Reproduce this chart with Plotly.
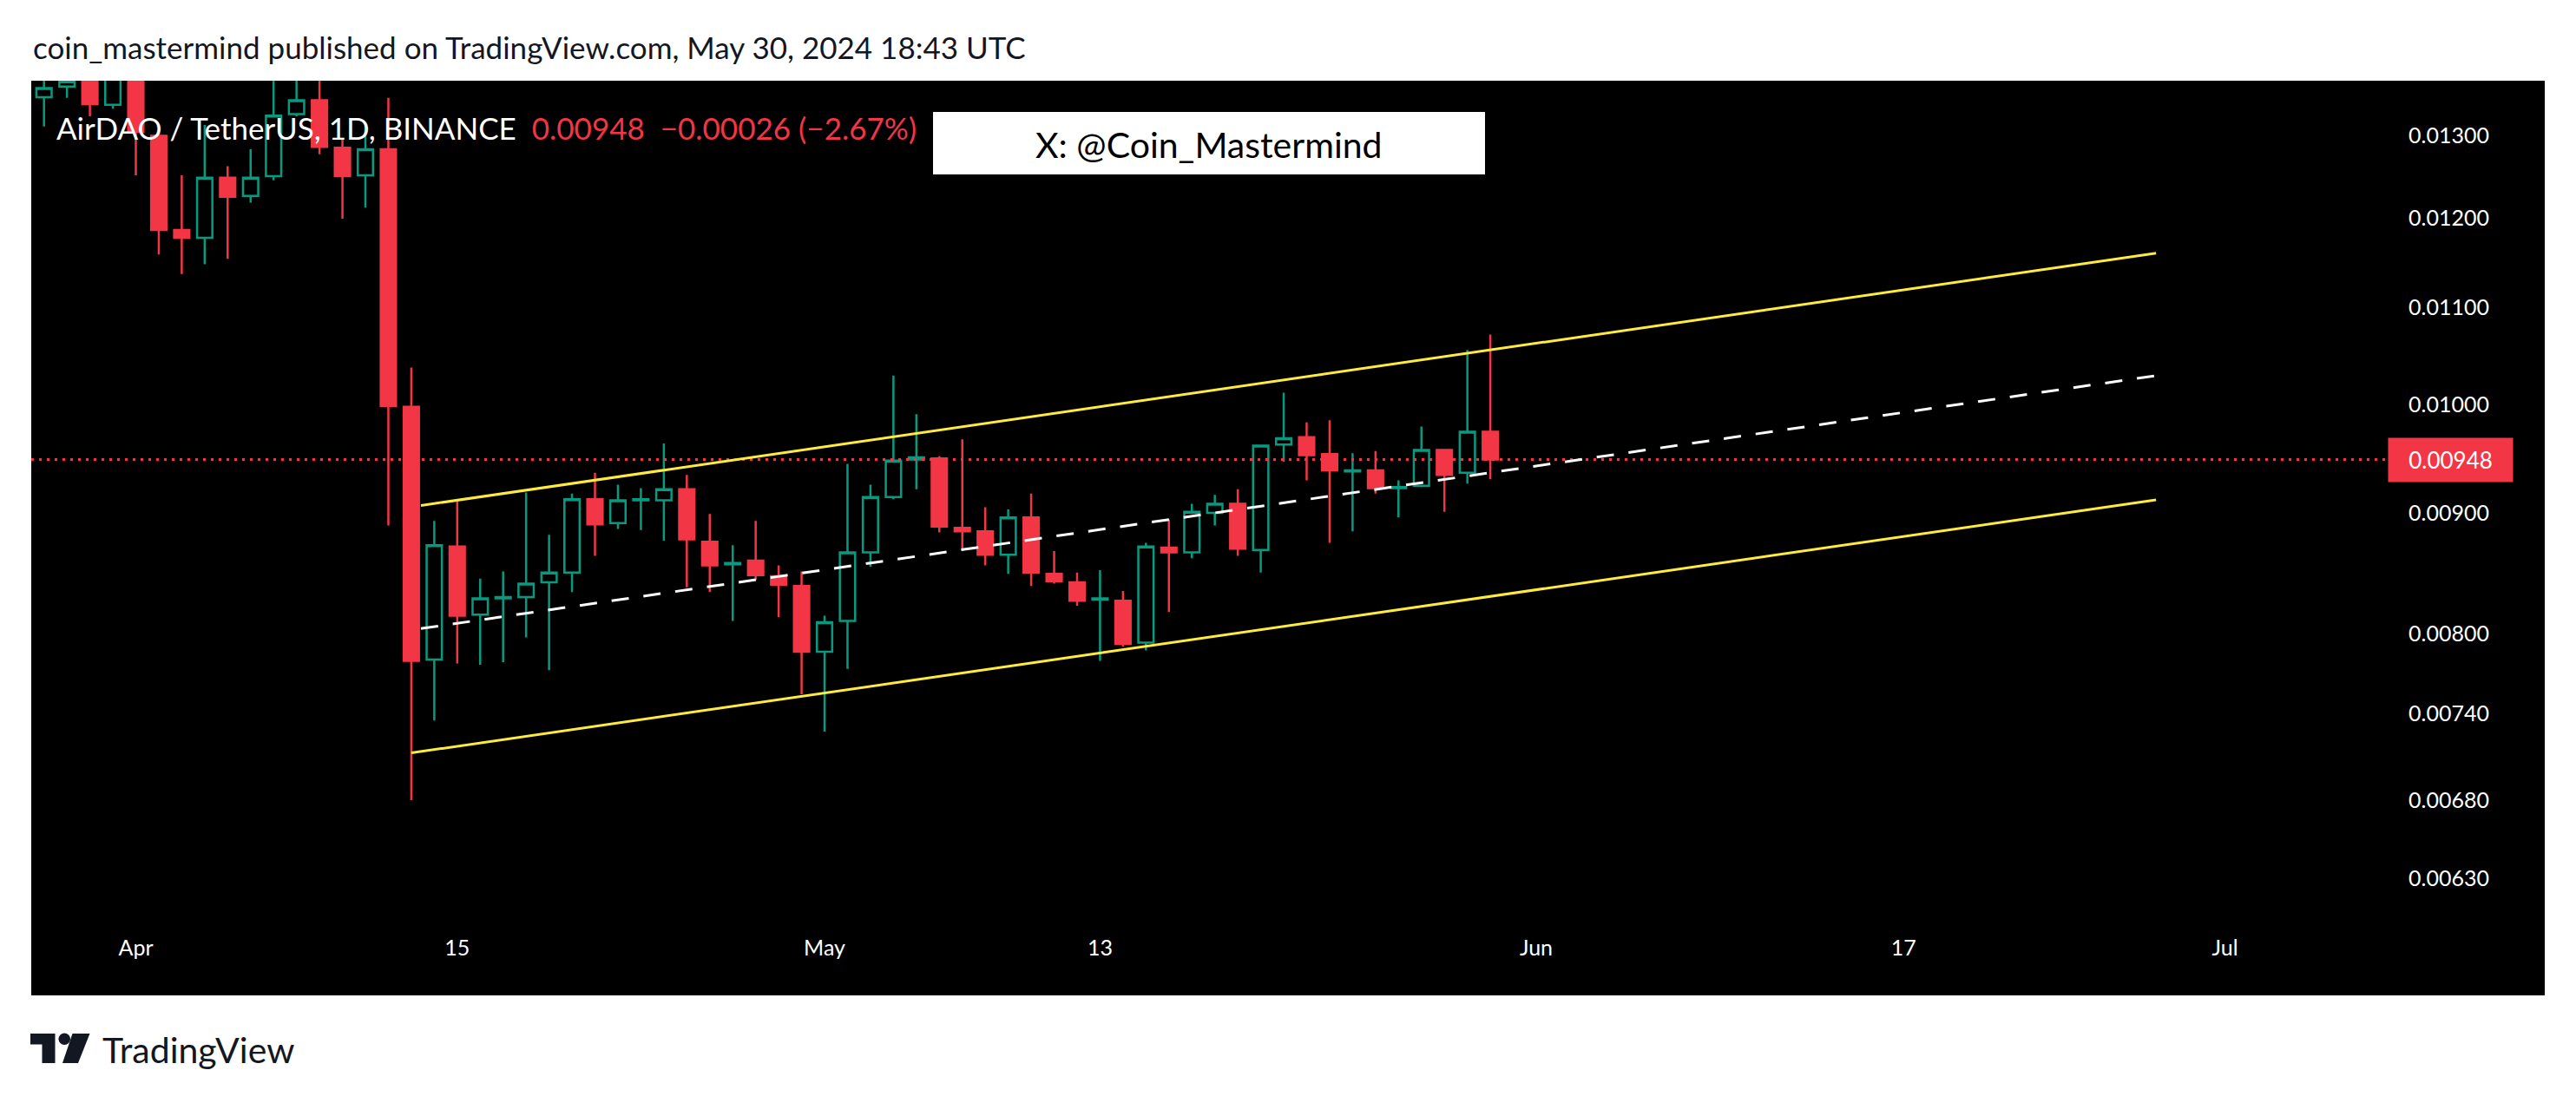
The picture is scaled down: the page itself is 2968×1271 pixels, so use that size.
import math
import pandas as pd
import plotly.graph_objects as go

# ---------------- data ----------------
dates = pd.date_range("2024-03-28", "2024-05-30", freq="D")

opens = [0.01350, 0.01364, 0.01390, 0.01340,
         0.01390, 0.01300, 0.01186, 0.01177, 0.01248, 0.01226, 0.01250, 0.01328, 0.01346, 0.01285,
         0.01251, 0.01283, 0.00998, 0.00780, 0.00871, 0.00815, 0.00828, 0.00829, 0.00841, 0.00849,
         0.00912, 0.00891, 0.00911, 0.00911, 0.00921, 0.00875, 0.00856, 0.00859, 0.00846, 0.00838,
         0.00786, 0.00810, 0.00866, 0.00914, 0.00948, 0.00949, 0.00887, 0.00884, 0.00864, 0.00896,
         0.00848, 0.00841, 0.00827, 0.00826, 0.00793, 0.00870, 0.00866, 0.00900, 0.00908, 0.00868,
         0.00962, 0.00969, 0.00953, 0.00937, 0.00938, 0.00922, 0.00924, 0.00957, 0.00936, 0.00974]
highs = [0.01400, 0.01395, 0.01420, 0.01400,
         0.01410, 0.01305, 0.01251, 0.01314, 0.01262, 0.01283, 0.01400, 0.01400, 0.01390, 0.01296,
         0.01312, 0.01349, 0.01037, 0.00893, 0.00911, 0.00844, 0.00850, 0.00918, 0.00881, 0.00917,
         0.00936, 0.00925, 0.00922, 0.00963, 0.00934, 0.00899, 0.00872, 0.00893, 0.00855, 0.00850,
         0.00814, 0.00944, 0.00925, 0.01029, 0.00991, 0.00951, 0.00967, 0.00905, 0.00903, 0.00917,
         0.00867, 0.00849, 0.00851, 0.00834, 0.00874, 0.00894, 0.00908, 0.00916, 0.00921, 0.00962,
         0.01012, 0.00983, 0.00985, 0.00954, 0.00956, 0.00929, 0.00979, 0.00958, 0.01055, 0.01071]
lows = [0.01312, 0.01349, 0.01325, 0.01335,
        0.01251, 0.01158, 0.01136, 0.01147, 0.01153, 0.01218, 0.01245, 0.01325, 0.01277, 0.01199,
        0.01212, 0.00889, 0.00680, 0.00735, 0.00777, 0.00776, 0.00778, 0.00797, 0.00772, 0.00833,
        0.00863, 0.00886, 0.00885, 0.00876, 0.00837, 0.00833, 0.00810, 0.00843, 0.00813, 0.00754,
        0.00727, 0.00773, 0.00854, 0.00912, 0.00921, 0.00883, 0.00869, 0.00855, 0.00848, 0.00838,
        0.00840, 0.00822, 0.00779, 0.00790, 0.00787, 0.00817, 0.00861, 0.00889, 0.00863, 0.00849,
        0.00946, 0.00929, 0.00874, 0.00884, 0.00917, 0.00896, 0.00923, 0.00901, 0.00926, 0.00930]
closes = [0.01362, 0.01371, 0.01341, 0.01385,
          0.01305, 0.01186, 0.01177, 0.01248, 0.01225, 0.01248, 0.01326, 0.01346, 0.01286, 0.01250,
          0.01283, 0.00999, 0.00779, 0.00872, 0.00814, 0.00828, 0.00829, 0.00840, 0.00849, 0.00912,
          0.00890, 0.00911, 0.00912, 0.00921, 0.00877, 0.00855, 0.00857, 0.00847, 0.00839, 0.00786,
          0.00809, 0.00866, 0.00914, 0.00947, 0.00950, 0.00888, 0.00884, 0.00864, 0.00896, 0.00849,
          0.00842, 0.00826, 0.00828, 0.00792, 0.00871, 0.00866, 0.00901, 0.00908, 0.00869, 0.00961,
          0.00968, 0.00952, 0.00938, 0.00938, 0.00922, 0.00923, 0.00957, 0.00934, 0.00974, 0.00948]

# channel drawings
upper_line_dates = ["2024-04-13 10:05", "2024-06-28 00:00"]
upper_line_prices = [0.009065, 0.011595]
mid_line_dates = ["2024-04-13 10:05", "2024-06-28 00:00"]
mid_line_prices = [0.008039, 0.010289]
lower_line_dates = ["2024-04-13 00:00", "2024-06-28 00:00"]
lower_line_prices = [0.007121, 0.009115]

# axis ticks
x_tick_dates = ["2024-04-01", "2024-04-15", "2024-05-01", "2024-05-13",
                "2024-06-01", "2024-06-17", "2024-07-01"]
x_tick_labels = ["Apr", "15", "May", "13", "Jun", "17", "Jul"]
y_tick_values = [0.0063, 0.0068, 0.0074, 0.0080, 0.0090, 0.0100, 0.0110, 0.0120, 0.0130]
y_tick_labels = ["0.00630", "0.00680", "0.00740", "0.00800", "0.00900",
                 "0.01000", "0.01100", "0.01200", "0.01300"]

header_text = "coin_mastermind published on TradingView.com, May 30, 2024 18:43 UTC"
symbol_text = "AirDAO / TetherUS, 1D, BINANCE"
change_text = "0.00948&nbsp;&nbsp;\u22120.00026 (\u22122.67%)"
watermark_text = "X: @Coin_Mastermind"

# ---------------- styling ----------------
W, H = 2968, 1271
L, R, T, B = 36, 2750, 93, 1075
FONT = "Lato"
RED = "#F23645"
GREEN = "#089981"
YELLOW = "#FFEB3B"
DARK = "#131722"
x_range = ["2024-03-27 10:40", "2024-07-08 01:12"]


def px(x):
    return (x - L) / (R - L)


def py(y):
    return (B - y) / (B - T)


fig = go.Figure()
fig.add_trace(go.Candlestick(
    x=dates, open=opens, high=highs, low=lows, close=closes,
    increasing=dict(line=dict(color=GREEN, width=2.5), fillcolor="#000000"),
    decreasing=dict(line=dict(color=RED, width=2.5), fillcolor=RED),
    whiskerwidth=0, showlegend=False, hoverinfo="skip",
))

fig.add_trace(go.Scatter(x=x_range, y=[closes[-1], closes[-1]], mode="lines",
                         line=dict(color=RED, width=3, dash="3px,6px"),
                         showlegend=False, hoverinfo="skip"))
fig.add_trace(go.Scatter(x=upper_line_dates, y=upper_line_prices, mode="lines",
                         line=dict(color=YELLOW, width=3), showlegend=False, hoverinfo="skip"))
fig.add_trace(go.Scatter(x=lower_line_dates, y=lower_line_prices, mode="lines",
                         line=dict(color=YELLOW, width=3), showlegend=False, hoverinfo="skip"))
fig.add_trace(go.Scatter(x=mid_line_dates, y=mid_line_prices, mode="lines",
                         line=dict(color="white", width=3, dash="20px,17px"),
                         showlegend=False, hoverinfo="skip"))

shapes = [
    dict(type="rect", xref="paper", yref="paper", x0=px(36), x1=px(2932),
         y0=py(1147), y1=py(93), fillcolor="black", line=dict(width=0), layer="below"),
    dict(type="rect", xref="paper", yref="paper", x0=px(1075), x1=px(1711),
         y0=py(201), y1=py(129), fillcolor="white", line=dict(width=0), layer="above"),
    # TradingView logo
    dict(type="path", xref="paper", yref="paper",
         path=f"M {px(35)},{py(1191)} L {px(63.5)},{py(1191)} L {px(63.5)},{py(1225)} "
              f"L {px(48.5)},{py(1225)} L {px(48.5)},{py(1203.5)} L {px(35)},{py(1203.5)} Z",
         fillcolor=DARK, line=dict(width=0)),
    dict(type="circle", xref="paper", yref="paper", x0=px(67.5), x1=px(81),
         y0=py(1204), y1=py(1190.5), fillcolor=DARK, line=dict(width=0)),
    dict(type="path", xref="paper", yref="paper",
         path=f"M {px(83.5)},{py(1191)} L {px(103.5)},{py(1191)} L {px(90)},{py(1225)} "
              f"L {px(72)},{py(1225)} Z",
         fillcolor=DARK, line=dict(width=0)),
]

annotations = [
    dict(xref="paper", yref="paper", x=px(36), y=py(54), xanchor="left", yanchor="middle",
         text=header_text, showarrow=False, font=dict(family=FONT, size=35, color=DARK)),
    dict(xref="paper", yref="paper", x=px(63), y=py(147), xanchor="left", yanchor="middle",
         text=f"{symbol_text}&nbsp;&nbsp;<span style='color:{RED}'>{change_text}</span>",
         showarrow=False, font=dict(family=FONT, size=35, color="white")),
    dict(xref="paper", yref="paper", x=px(1393), y=py(166), xanchor="center", yanchor="middle",
         text=watermark_text, showarrow=False, font=dict(family=FONT, size=41, color="black")),
    dict(xref="paper", yref="y", x=px(2751), y=math.log10(closes[-1]), xanchor="left",
         yanchor="middle", text=f"{closes[-1]:.5f}", showarrow=False, width=143, height=50,
         bgcolor=RED, borderpad=0, font=dict(family=FONT, size=26, color="white")),
    dict(xref="paper", yref="paper", x=px(116), y=py(1209), xanchor="left", yanchor="middle",
         text="TradingView", showarrow=False, font=dict(family=FONT, size=41, color=DARK)),
]

fig.update_layout(
    width=W, height=H, autosize=False,
    margin=dict(l=L, r=W - R, t=T, b=H - B, pad=0),
    paper_bgcolor="white", plot_bgcolor="black",
    showlegend=False, boxgap=0.3, boxgroupgap=0.05,
    shapes=shapes, annotations=annotations,
    xaxis=dict(type="date", range=x_range, tickvals=x_tick_dates, ticktext=x_tick_labels,
               showgrid=False, zeroline=False, showline=False, ticks="",
               tickfont=dict(family=FONT, size=25, color="white"),
               rangeslider=dict(visible=False), fixedrange=True),
    yaxis=dict(type="log", range=[-2.223714, -1.862684], side="right",
               tickvals=y_tick_values, ticktext=y_tick_labels,
               showgrid=False, zeroline=False, showline=False, ticks="",
               tickfont=dict(family=FONT, size=25, color="white"),
               ticklabelstandoff=24, fixedrange=True),
)

fig.write_html("out.html")
